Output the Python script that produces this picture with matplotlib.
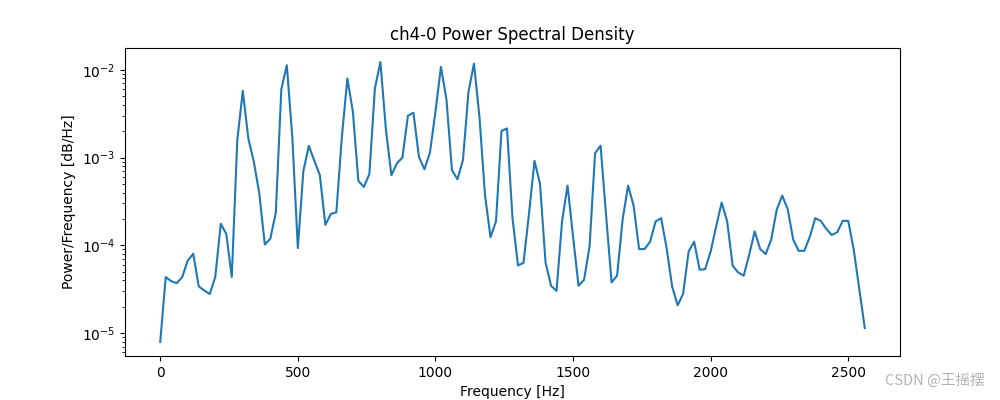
import numpy as np
import matplotlib
matplotlib.use('Agg')
import matplotlib.pyplot as plt

# welch output, 20 Hz bins, 0..2560 Hz
freqs = np.arange(0, 2561, 20)
psd = [
    7.9e-6, 4.35e-5, 3.9e-5, 3.7e-5, 4.35e-5, 6.7e-5, 8.0e-5, 3.4e-5, 3.06e-5, 2.78e-5,
    4.35e-5, 1.76e-4, 1.35e-4, 4.35e-5, 1.58e-3, 5.77e-3, 1.66e-3, 9.0e-4, 3.9e-4, 1.02e-4,
    1.19e-4, 2.36e-4, 6.0e-3, 1.13e-2, 1.7e-3, 9.3e-5, 7.0e-4, 1.36e-3, 9.2e-4, 6.3e-4,
    1.71e-4, 2.28e-4, 2.38e-4, 1.73e-3, 7.98e-3, 3.33e-3, 5.42e-4, 4.63e-4, 6.5e-4, 6.14e-3,
    1.23e-2, 2.1e-3, 6.3e-4, 8.6e-4, 1.0e-3, 3.0e-3, 3.25e-3, 1.02e-3, 7.36e-4, 1.14e-3,
    3.33e-3, 1.08e-2, 4.6e-3, 7.2e-4, 5.66e-4, 9.4e-4, 5.6e-3, 1.18e-2, 2.9e-3, 3.76e-4,
    1.24e-4, 1.87e-4, 2.01e-3, 2.15e-3, 2.04e-4, 5.9e-5, 6.3e-5, 2.3e-4, 9.2e-4, 5.0e-4,
    6.4e-5, 3.46e-5, 3.03e-5, 1.87e-4, 4.79e-4, 1.26e-4, 3.46e-5, 4.05e-5, 9.7e-5, 1.12e-3,
    1.37e-3, 2.2e-4, 3.78e-5, 4.5e-5, 1.95e-4, 4.79e-4, 2.84e-4, 9.06e-5, 9.06e-5, 1.1e-4,
    1.87e-4, 2.04e-4, 9.3e-5, 3.4e-5, 2.07e-5, 2.8e-5, 8.5e-5, 1.1e-4, 5.26e-5, 5.35e-5,
    8.5e-5, 1.64e-4, 3.07e-4, 1.87e-4, 5.85e-5, 4.9e-5, 4.5e-5, 7.8e-5, 1.44e-4, 9.06e-5,
    7.94e-5, 1.16e-4, 2.54e-4, 3.69e-4, 2.58e-4, 1.16e-4, 8.65e-5, 8.65e-5, 1.24e-4, 2.04e-4,
    1.9e-4, 1.54e-4, 1.31e-4, 1.41e-4, 1.9e-4, 1.9e-4, 8.9e-5, 3.2e-5, 1.14e-5,
]

fig = plt.figure(figsize=(10, 4), dpi=100)
plt.semilogy(freqs, psd)
plt.title('ch4-0 Power Spectral Density')
plt.xlabel('Frequency [Hz]')
plt.ylabel('Power/Frequency [dB/Hz]')

# blog watermark
fig.text(0.985, 0.047, 'CSDN @王摇摆', ha='right', va='center', fontsize=10.5,
         color='#b3b3b3', family=['Noto Sans CJK SC', 'DejaVu Sans'])

plt.savefig('out.png')
